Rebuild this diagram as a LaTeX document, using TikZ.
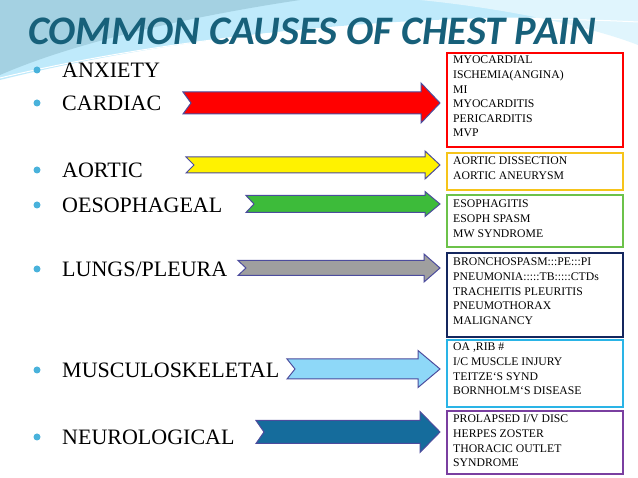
\documentclass[tikz,border=0pt]{standalone}
\usepackage{fontspec}
\setmainfont{Liberation Serif}
\newfontfamily\titlefont{Carlito}
\definecolor{titlec}{HTML}{17607A}
\definecolor{lblue}{HTML}{8ED8F8}
\definecolor{dblue}{HTML}{156C9C}
\definecolor{gr}{HTML}{3DBB3A}
\definecolor{boxgr}{HTML}{6CC24A}
\definecolor{boxy}{HTML}{F6C41A}
\definecolor{boxc}{HTML}{2AB4E6}
\definecolor{boxv}{HTML}{7A3FA0}
\definecolor{boxn}{HTML}{14265E}
\begin{document}
\begin{tikzpicture}[x=1pt,y=-1pt,
  boxtext/.style={font=\fontsize{11.7}{14.6}\selectfont,align=left,anchor=north west,inner sep=0pt},
  cat/.style={font=\fontsize{22}{24}\selectfont,anchor=west,inner sep=0pt},
  dot/.style={circle,fill=cyan!70!teal!80,inner sep=0pt,minimum size=7pt},
  arr/.style={draw=blue!45!black!70,line width=1pt},
  frame/.style={line width=2.8pt}]
\useasboundingbox (0,0) rectangle (638,478);
\fill[white] (0,0) rectangle (638,478);
% top swoosh background
\fill[cyan!25] (0,0) -- (638,0) -- (638,20) .. controls (450,10) and (200,30) .. (0,80) -- cycle;
\fill[cyan!45!teal!40] (0,0) -- (300,0) .. controls (200,15) and (80,40) .. (0,75) -- cycle;
\fill[cyan!12] (420,0) .. controls (520,10) and (600,30) .. (638,45) -- (638,0) -- cycle;
\draw[white,line width=1pt] (0,78) .. controls (200,30) and (450,12) .. (638,22);
\node[font=\titlefont\bfseries\itshape\fontsize{40.5}{42}\selectfont,text=titlec,anchor=base west,inner sep=0pt] (title) at (28,45) {COMMON CAUSES OF CHEST PAIN};
% categories
\foreach \n/\t/\y in {anx/ANXIETY/70,car/CARDIAC/103,aor/AORTIC/170,oes/OESOPHAGEAL/205,lun/{LUNGS/PLEURA}/269,mus/MUSCULOSKELETAL/370,neu/NEUROLOGICAL/437}{
  \node[dot] (d\n) at (37,\y) {};
  \node[cat] (c\n) at (62,\y) {\t};
}
% arrows: x0, x1, head start, centre, half body, half head
\def\arrowshape#1#2#3#4#5#6#7{%
  \filldraw[arr,fill=#7] (#1,#4-#5) -- (#3,#4-#5) -- (#3,#4-#6) -- (#2,#4) -- (#3,#4+#6) -- (#3,#4+#5) -- (#1,#4+#5) -- (#1+8,#4) -- cycle;}
\arrowshape{183}{440}{421}{103}{11}{20}{red}
\arrowshape{186}{440}{425}{165}{8}{14}{yellow}
\arrowshape{246}{440}{425}{204}{8.5}{12.5}{gr}
\arrowshape{238}{440}{424}{268}{7.5}{14}{gray!75}
\arrowshape{287}{440}{418}{369}{10}{18.5}{lblue}
\arrowshape{256}{440}{420}{432}{11.5}{20.5}{dblue}
% boxes
\draw[frame,red] (447,53) rectangle (623,147);
\draw[frame,boxy] (447,153) rectangle (623,190);
\draw[frame,boxgr] (447,195) rectangle (623,247);
\draw[frame,boxn] (447,253) rectangle (623,337);
\draw[frame,boxc] (447,340) rectangle (623,407);
\draw[frame,boxv] (447,411) rectangle (623,474);
\node[boxtext] (t1) at (453,56) {MYOCARDIAL\\ISCHEMIA(ANGINA)\\MI\\MYOCARDITIS\\PERICARDITIS\\MVP};
\node[boxtext] (t2) at (453,157) {AORTIC DISSECTION\\AORTIC ANEURYSM};
\node[boxtext] (t3) at (453,200) {ESOPHAGITIS\\ESOPH SPASM\\MW SYNDROME};
\node[boxtext] (t4) at (453,258) {BRONCHOSPASM:::PE:::PI\\PNEUMONIA:::::TB:::::CTDs\\TRACHEITIS PLEURITIS\\PNEUMOTHORAX\\MALIGNANCY};
\node[boxtext] (t5) at (453,343) {OA ,RIB \#\\I/C MUSCLE INJURY\\TEITZE`S SYND\\BORNHOLM`S DISEASE};
\node[boxtext] (t6) at (453,415) {PROLAPSED I/V DISC\\HERPES ZOSTER\\THORACIC OUTLET\\SYNDROME};
\end{tikzpicture}
\end{document}
